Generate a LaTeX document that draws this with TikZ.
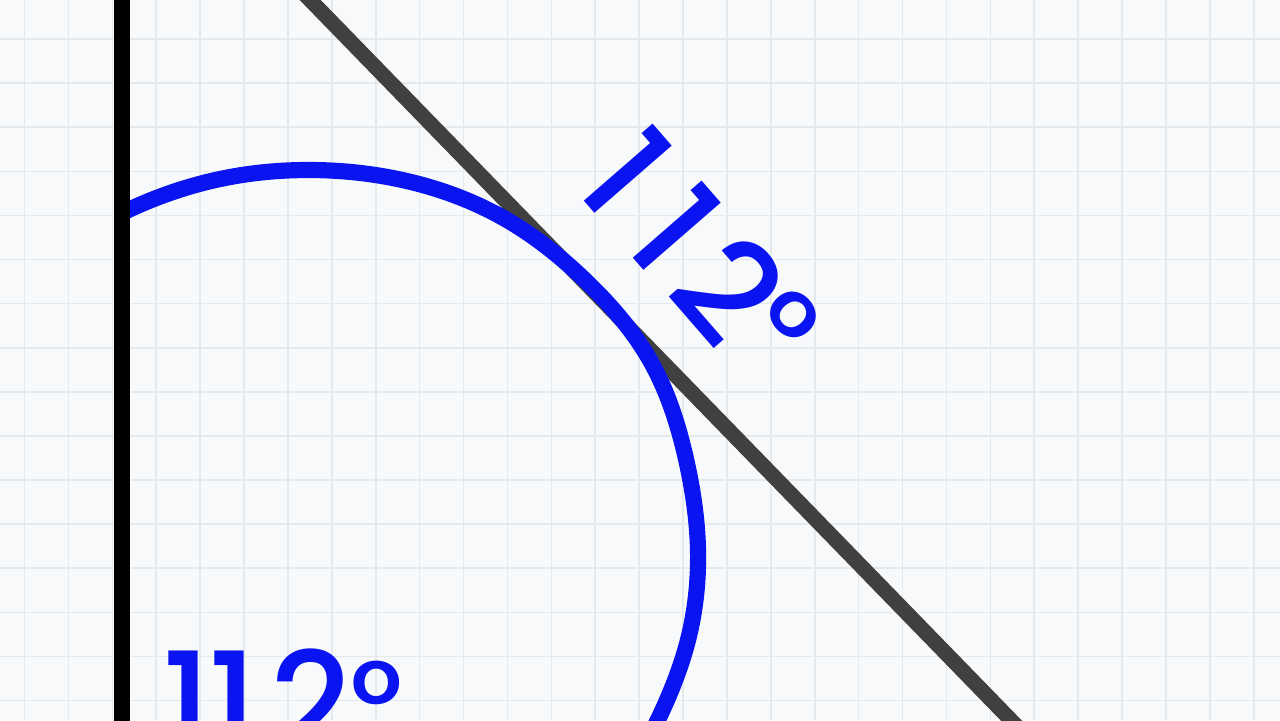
\documentclass[tikz,border=0pt]{standalone}
\usepackage{fontspec}
\setmainfont{Poppins Medium}
\usetikzlibrary{hobby}
\definecolor{bg}{HTML}{F8F9FA}
\definecolor{gridc}{HTML}{E6E9EC}
\definecolor{myblue}{HTML}{0A14F0}
\definecolor{dgray}{HTML}{404040}
\begin{document}
\begin{tikzpicture}[x=0.01cm,y=-0.01cm,
  gridline/.style={draw=gridc,line width=0.45pt},
  blackline/.style={draw=black,line width=4.6pt},
  grayline/.style={draw=dgray,line width=4.3pt},
  arcline/.style={draw=myblue,line width=4.6pt},
  lbl/.style={text=myblue,inner sep=0pt,font=\fontsize{40}{48}\selectfont}]
\fill[bg] (0,0) rectangle (1280,720);
\useasboundingbox (0,0) rectangle (1280,720);
\clip (0,0) rectangle (1280,720);
\foreach \i in {0,...,28} \draw[gridline] ({24.5+43.9*\i},0) -- ++(0,720);
\foreach \j in {0,...,16} \draw[gridline] (0,{39+44.1*\j}) -- ++(1280,0);
\coordinate (dt) at (281,-30);
\coordinate (db) at (1040,750);
\draw[grayline] (dt) -- (db);
\coordinate (a0) at (122,213);
\coordinate (a1) at (170,193);
\coordinate (a2) at (220,179);
\coordinate (a3) at (310,170);
\coordinate (a4) at (411,182);
\coordinate (a5) at (507,220);
\coordinate (a6) at (588,283);
\coordinate (a7) at (651,362);
\coordinate (a8) at (686,459);
\coordinate (a9) at (698,550);
\coordinate (a10) at (688,640);
\coordinate (a11) at (667,700);
\coordinate (a12) at (645,745);
\draw[arcline,use Hobby shortcut] (a0) .. (a1) .. (a2) .. (a3) .. (a4) .. (a5) .. (a6) .. (a7) .. (a8) .. (a9) .. (a10) .. (a11) .. (a12);
\coordinate (vt) at (122,-20);
\coordinate (vb) at (122,740);
\draw[blackline] (vt) -- (vb);
\node[lbl,anchor=base west] (b1) at (162,753) {1};
\node[lbl,anchor=base west] (b2) at (208,753) {1};
\node[lbl,anchor=base west] (b3) at (270,753) {2};
\node[lbl,anchor=base west,font=\fontsize{35}{42}\selectfont] (b4) at (350,747) {°};
\node[lbl,anchor=base,rotate=-49] (r1) at (588,205) {1};
\node[lbl,anchor=base,rotate=-49] (r2) at (637,262) {1};
\node[lbl,anchor=base,rotate=-49] (r3) at (690,323) {2};
\node[lbl,anchor=base,rotate=-49,font=\fontsize{35}{42}\selectfont] (r4) at (745,357) {°};
\end{tikzpicture}
\end{document}
